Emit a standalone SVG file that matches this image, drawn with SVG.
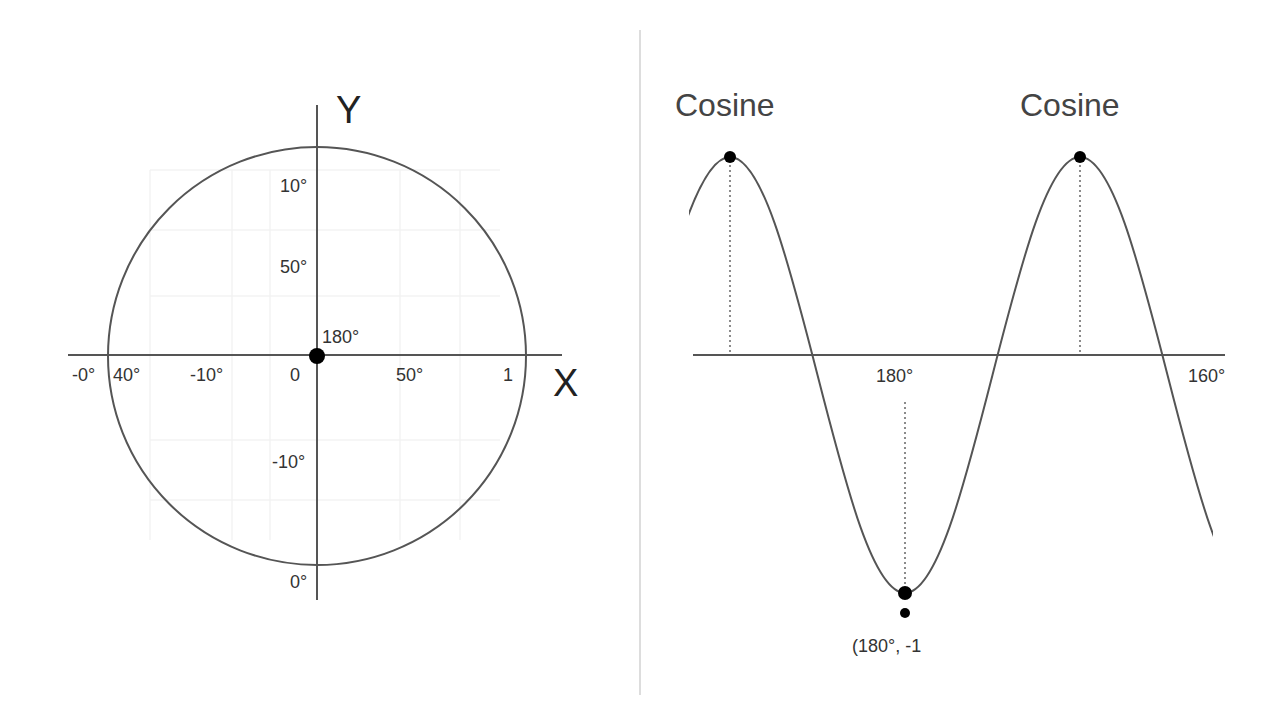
<svg xmlns="http://www.w3.org/2000/svg" width="1280" height="720" viewBox="0 0 1280 720">
<style>
.ax{stroke:#555;stroke-width:2;fill:none}
.grid{stroke:#f3f3f3;stroke-width:1.5}
.t{font-family:"Liberation Sans",Arial,sans-serif;font-size:18px;fill:#333}
.big{font-family:"Liberation Sans",Arial,sans-serif;font-size:38px;fill:#222}
.ttl{font-family:"Liberation Sans",Arial,sans-serif;font-size:32px;fill:#444}
.dot{stroke:#666;stroke-width:1.5;stroke-dasharray:2 3}
</style>
<defs><clipPath id="cc"><rect x="689" y="100" width="524" height="520"/></clipPath></defs>
<rect width="1280" height="720" fill="#fff"/>
<g id="grid">
<path class="grid" d="M150,230H500M150,296H500M150,440H500M150,500H500M150,170H500M232,170V540M150,170V540M400,170V540M460,170V540M270,170V540"/>
</g>
<line x1="640" y1="30" x2="640" y2="695" stroke="#ddd" stroke-width="2"/>
<g id="circle">
<circle cx="317" cy="356" r="209" class="ax"/>
<line x1="68" y1="355" x2="562" y2="355" class="ax"/>
<line x1="317" y1="105" x2="317" y2="600" class="ax"/>
<circle cx="317" cy="356" r="8" fill="#000"/>
<text class="big" x="336" y="123">Y</text>
<text class="big" x="553" y="396">X</text>
<text class="t" x="280" y="192">10°</text>
<text class="t" x="280" y="273">50°</text>
<text class="t" x="322" y="343">180°</text>
<text class="t" x="72" y="381">-0°</text>
<text class="t" x="113" y="381">40°</text>
<text class="t" x="190" y="381">-10°</text>
<text class="t" x="290" y="381">0</text>
<text class="t" x="396" y="381">50°</text>
<text class="t" x="503" y="381">1</text>
<text class="t" x="272" y="468">-10°</text>
<text class="t" x="290" y="588">0°</text>
</g>
<g id="cosine">
<text class="ttl" x="675" y="116">Cosine</text>
<text class="ttl" x="1020" y="116">Cosine</text>
<line x1="693" y1="355" x2="1225" y2="355" class="ax"/>
<line x1="730" y1="160" x2="730" y2="352" class="dot"/>
<line x1="1080" y1="160" x2="1080" y2="352" class="dot"/>
<line x1="905" y1="402" x2="905" y2="590" class="dot"/>
<path class="ax" clip-path="url(#cc)" d="M642.5,375 C671.75,260.5 698.5,157 730,157 C761.5,157 788.25,260.5 817.5,375 C846.75,489.5 873.5,593 905,593 C936.5,593 963.25,489.5 992.5,375 C1021.75,260.5 1048.5,157 1080,157 C1111.5,157 1138.25,260.5 1167.5,375 C1196.75,489.5 1223.5,593 1255,593"/>
<circle cx="730" cy="157" r="6" fill="#000"/>
<circle cx="1080" cy="157" r="6" fill="#000"/>
<circle cx="905" cy="593" r="7" fill="#000"/>
<circle cx="905" cy="613" r="5" fill="#000"/>
<text class="t" x="876" y="382">180°</text>
<text class="t" x="1188" y="382">160°</text>
<text class="t" x="852" y="652" font-size="22">(180°, -1</text>
</g>
</svg>
